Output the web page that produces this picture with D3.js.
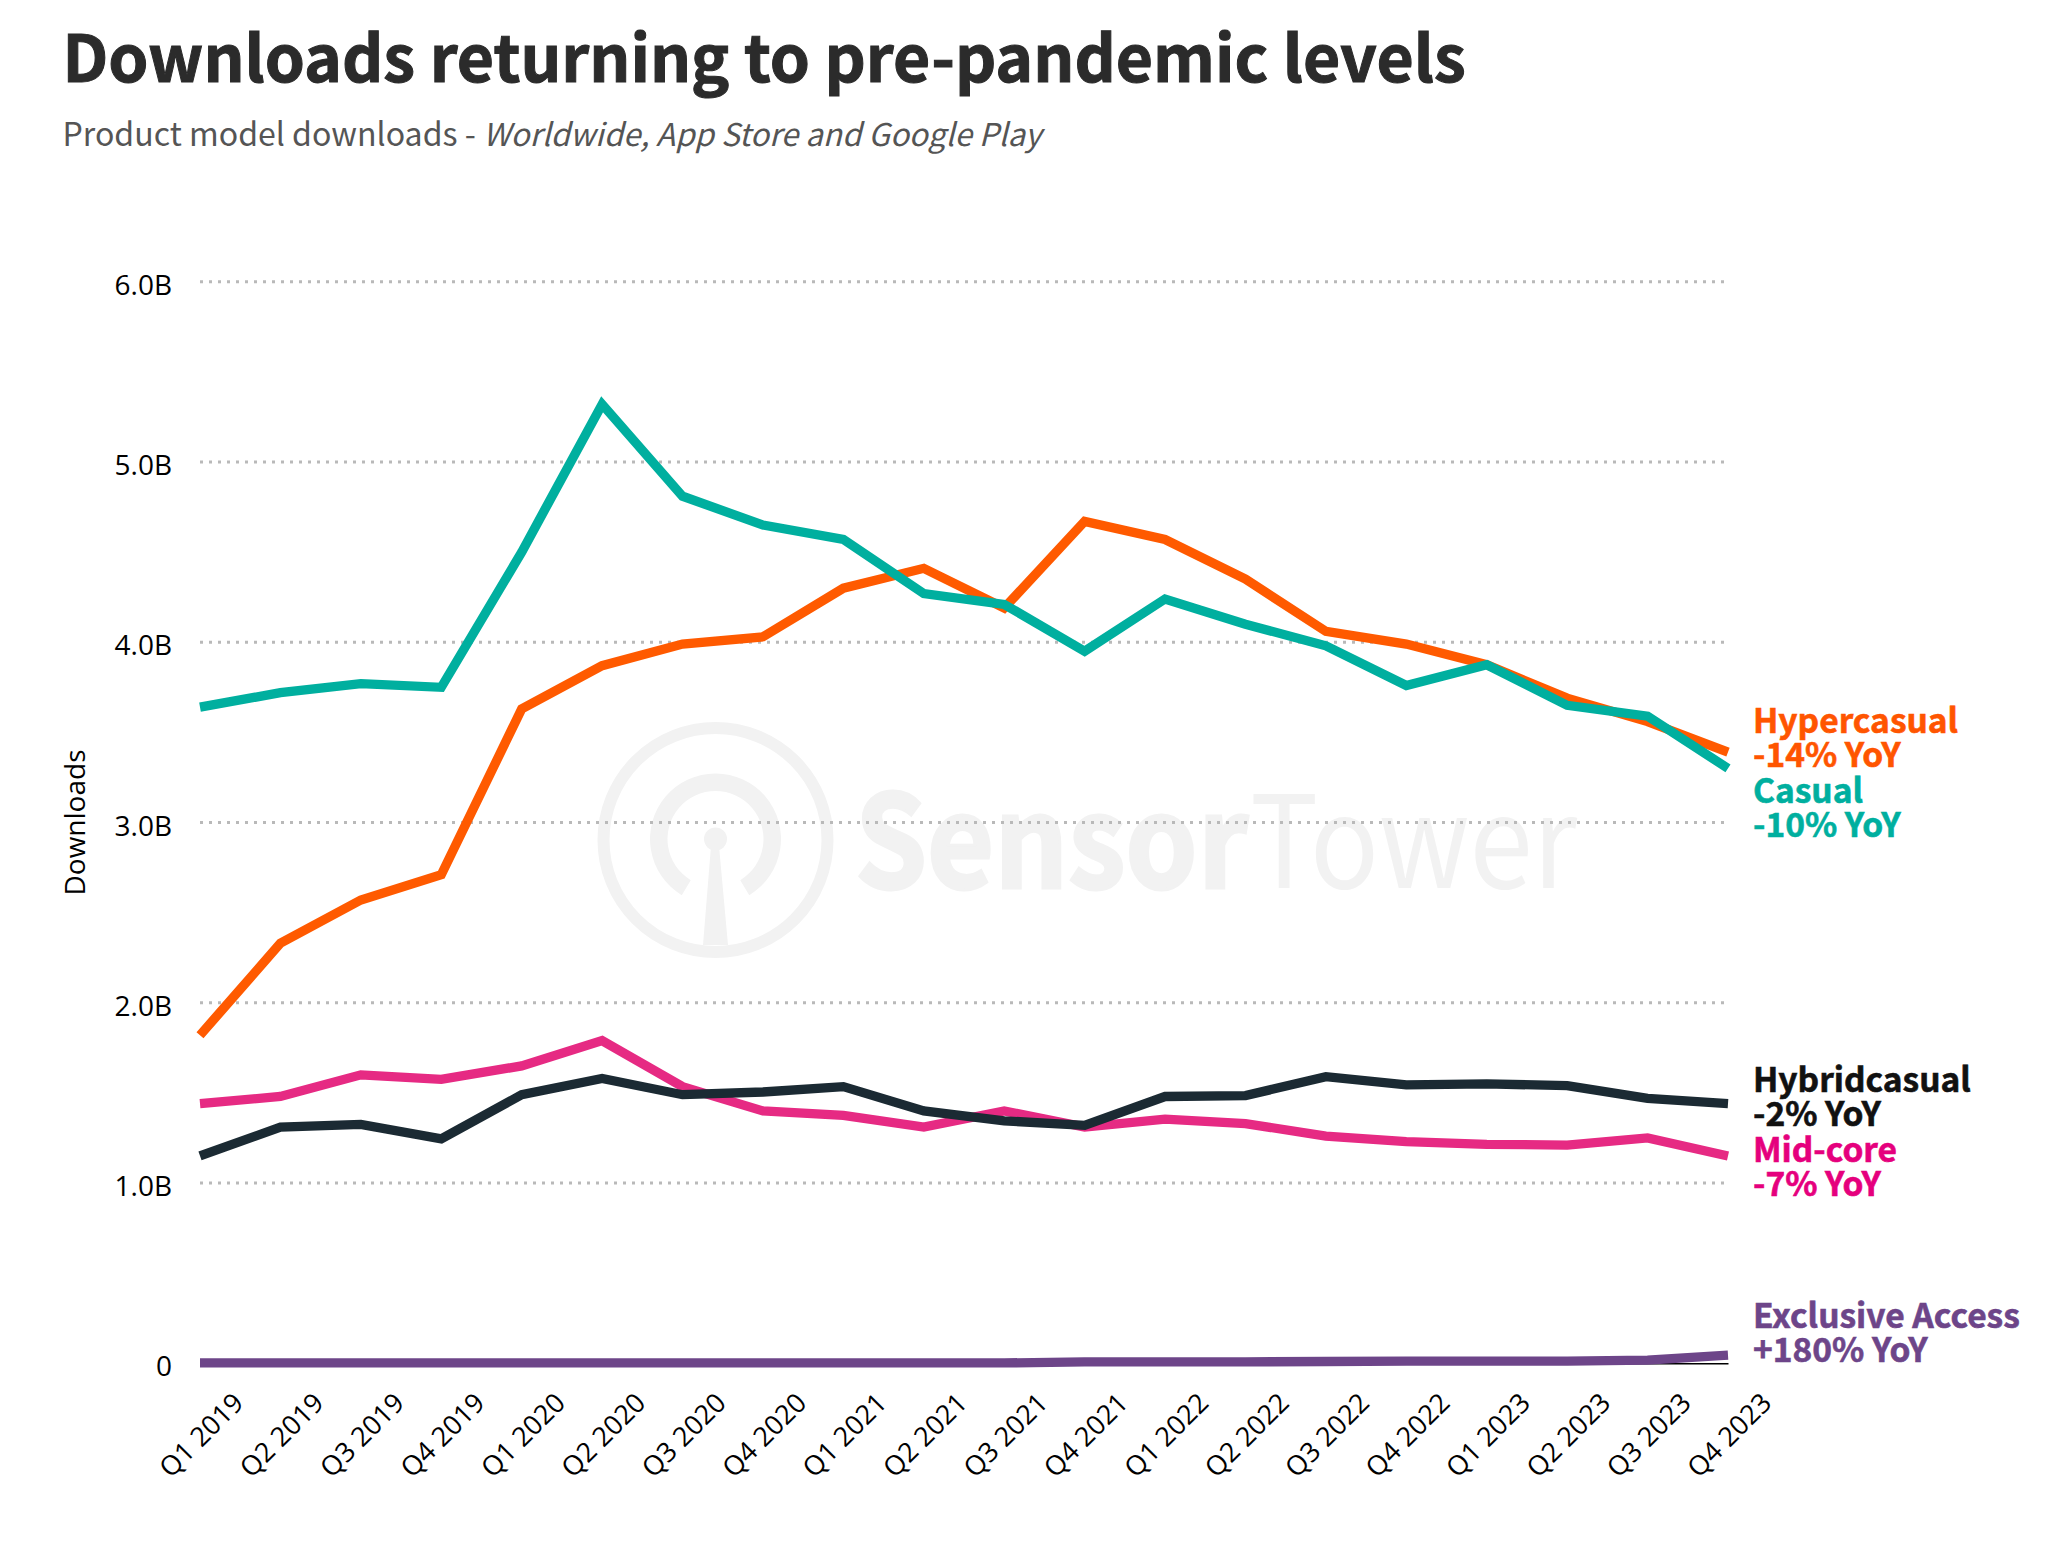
<!DOCTYPE html>
<html>
<head>
<meta charset="utf-8">
<script src="https://cdn.jsdelivr.net/npm/d3@7/dist/d3.min.js"></script>
<style>
  html,body{margin:0;padding:0;background:#fff;}
  svg{display:block;}
  text{font-family:"Noto Sans CJK SC","Noto Sans",sans-serif;}
  .axis text,.axislabel{font-family:"Open Sans",sans-serif;}
</style>
</head>
<body>
<div id="chart"></div>
<script>
// values, in billions of downloads
var quarters=["Q1 2019","Q2 2019","Q3 2019","Q4 2019","Q1 2020","Q2 2020","Q3 2020","Q4 2020","Q1 2021","Q2 2021","Q3 2021","Q4 2021","Q1 2022","Q2 2022","Q3 2022","Q4 2022","Q1 2023","Q2 2023","Q3 2023","Q4 2023"];
var hypercasual=[1.82,2.33,2.57,2.71,3.63,3.87,3.99,4.03,4.30,4.41,4.19,4.67,4.57,4.35,4.06,3.99,3.875,3.69,3.56,3.39];
var casual=[3.64,3.72,3.77,3.75,4.50,5.32,4.81,4.65,4.57,4.27,4.21,3.95,4.24,4.10,3.98,3.76,3.875,3.65,3.59,3.30];
var midcore=[1.44,1.48,1.60,1.575,1.65,1.79,1.535,1.40,1.375,1.31,1.40,1.31,1.355,1.33,1.26,1.23,1.215,1.21,1.25,1.15];
var hybridcasual=[1.15,1.31,1.325,1.245,1.49,1.58,1.49,1.505,1.535,1.40,1.345,1.32,1.48,1.485,1.59,1.545,1.55,1.54,1.47,1.44];
var exclusive=[0.002,0.002,0.002,0.002,0.002,0.002,0.002,0.002,0.002,0.002,0.002,0.008,0.008,0.008,0.01,0.012,0.012,0.012,0.018,0.045];
var yTicks=[0,1,2,3,4,5,6];

var width=2060,height=1552;
var left=200,right=1728,top0=281.7,bottom=1363.3;

var svg=d3.select("#chart").append("svg")
  .attr("width",width)
  .attr("height",height);

var x=d3.scalePoint().domain(quarters).range([left,right]);
var y=d3.scaleLinear().domain([0,6]).range([bottom,top0]);

// watermark
var wm=svg.append("g").attr("fill","#f2f2f2");
wm.append("circle").attr("cx",715.5).attr("cy",840).attr("r",112)
  .attr("fill","none").attr("stroke","#f2f2f2").attr("stroke-width",12);
var arc=d3.arc().innerRadius(48).outerRadius(65.5).startAngle(-2.6).endAngle(2.6);
wm.append("path").attr("d",arc()).attr("transform","translate(715.5,839)");
wm.append("circle").attr("cx",715.5).attr("cy",839).attr("r",11.5);
wm.append("path").attr("d","M711,846L719,846L728,945L703,945Z");
wm.append("text").attr("x",855).attr("y",888).attr("font-size",128).attr("font-weight",700)
  .attr("stroke","#f2f2f2").attr("stroke-width",3)
  .attr("textLength",393).attr("lengthAdjust","spacingAndGlyphs").text("Sensor");
wm.append("text").attr("x",1250).attr("y",888).attr("font-size",128).attr("font-weight",400)
  .attr("textLength",327).attr("lengthAdjust","spacingAndGlyphs").text("Tower");

// grid
svg.append("g").selectAll("line")
  .data(yTicks.filter(function(d){return d>0;}))
  .enter()
  .append("line")
  .attr("x1",left)
  .attr("x2",right)
  .attr("y1",function(d){return y(d);})
  .attr("y2",function(d){return y(d);})
  .attr("stroke","#b9b9b9")
  .attr("stroke-width",3)
  .attr("stroke-dasharray","3 6");

// axes
var yAxis=d3.axisLeft(y).tickValues(yTicks).tickSize(0)
  .tickFormat(function(d){return d==0?"0":d.toFixed(1)+"B";});
var yg=svg.append("g").attr("class","axis").attr("transform","translate("+left+",0)").call(yAxis);
yg.select(".domain").remove();
yg.selectAll("text")
  .attr("x",-28)
  .attr("dy",null)
  .attr("y",12.5)
  .attr("font-size",28)
  .attr("fill","#000");

var xAxis=d3.axisBottom(x).tickSize(0);
var xg=svg.append("g").attr("class","axis").attr("transform","translate(0,"+bottom+")").call(xAxis);
xg.select(".domain").attr("stroke","#000").attr("stroke-width",1.5);
xg.selectAll("text")
  .attr("font-size",27)
  .attr("fill","#000")
  .attr("text-anchor","middle")
  .attr("dy",null)
  .attr("dominant-baseline","central")
  .attr("y",null)
  .attr("transform","translate(0,71) rotate(-45)");

svg.append("text")
  .attr("class","axislabel")
  .attr("transform","translate(85,822.5) rotate(-90)")
  .attr("text-anchor","middle")
  .attr("font-size",28)
  .attr("fill","#000")
  .text("Downloads");

// lines
var series=[
  {name:"Exclusive Access",values:exclusive,color:"#6d4589"},
  {name:"Mid-core",values:midcore,color:"#e62a83"},
  {name:"Hybridcasual",values:hybridcasual,color:"#1b2a33"},
  {name:"Hypercasual",values:hypercasual,color:"#ff5a00"},
  {name:"Casual",values:casual,color:"#00af9f"}
];
var line=d3.line()
  .x(function(d,i){return x(quarters[i]);})
  .y(function(d){return y(d);});
svg.append("g").selectAll("path")
  .data(series)
  .enter()
  .append("path")
  .attr("d",function(d){return line(d.values);})
  .attr("fill","none")
  .attr("stroke",function(d){return d.color;})
  .attr("stroke-width",9.3)
  .attr("stroke-linejoin","miter");

// end labels
var labels=[
  {a:"Hypercasual",b:"-14% YoY",c:"#ff5500",y:732.7},
  {a:"Casual",b:"-10% YoY",c:"#00af9f",y:803},
  {a:"Hybridcasual",b:"-2% YoY",c:"#111111",y:1091.7},
  {a:"Mid-core",b:"-7% YoY",c:"#e5007d",y:1161.7},
  {a:"Exclusive Access",b:"+180% YoY",c:"#6d4589",y:1328.3}
];
var lab=svg.append("g").selectAll("text")
  .data(labels)
  .enter()
  .append("text")
  .attr("x",1753)
  .attr("y",function(d){return d.y;})
  .attr("fill",function(d){return d.c;})
  .attr("stroke",function(d){return d.c;})
  .attr("stroke-width",0.6)
  .attr("font-size",33.5)
  .attr("font-weight",700);
lab.append("tspan").text(function(d){return d.a;});
lab.append("tspan").attr("x",1753).attr("dy",34).text(function(d){return d.b;});

// title
svg.append("text").attr("x",62.5).attr("y",82)
  .attr("font-size",64.2).attr("font-weight",700).attr("fill","#2b2b2b")
  .attr("stroke","#2b2b2b").attr("stroke-width",1)
  .text("Downloads returning to pre-pandemic levels");
var sub=svg.append("text").attr("x",62.5).attr("y",146)
  .attr("fill","#555");
sub.append("tspan").attr("font-size",32.1).text("Product model downloads - ");
sub.append("tspan").attr("font-size",31.3).attr("font-style","italic").text("Worldwide, App Store and Google Play");
</script>
</body>
</html>
